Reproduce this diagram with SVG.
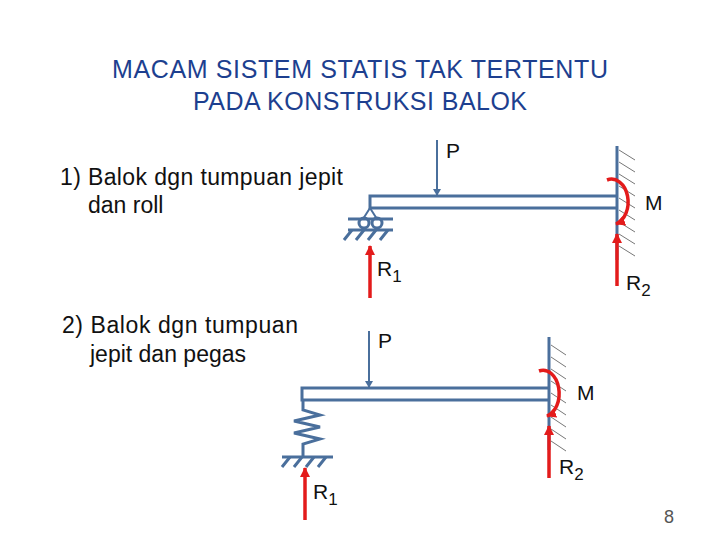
<svg xmlns="http://www.w3.org/2000/svg" width="720" height="540" viewBox="0 0 720 540">
<defs>
<marker id="ab" markerWidth="8" markerHeight="8" refX="6" refY="4" orient="auto" markerUnits="userSpaceOnUse"><path d="M0,0 L7,4 L0,8 Z" fill="#4a6f9c"/></marker>
<marker id="ar" markerWidth="12" markerHeight="10" refX="9" refY="5" orient="auto" markerUnits="userSpaceOnUse"><path d="M0,0 L10,5 L0,10 Z" fill="#e31b1b"/></marker>
</defs>
<style>
text{font-family:"Liberation Sans",Arial,sans-serif;fill:#111}
.t{font-size:25px;fill:#1d3f8f}
.l{font-size:23px}
.s{font-size:21px}
.b{fill:none;stroke:#4a6f9c;stroke-width:3}
.bt{fill:none;stroke:#4a6f9c;stroke-width:2}
.h{stroke:#777;stroke-width:1}
.r{fill:none;stroke:#e31b1b;stroke-width:3.5}
</style>
<rect width="720" height="540" fill="#fff"/>
<text class="t" x="360" y="78" text-anchor="middle" textLength="496">MACAM SISTEM STATIS TAK TERTENTU</text>
<text class="t" x="360" y="110" text-anchor="middle" textLength="334">PADA KONSTRUKSI BALOK</text>
<text class="l" x="60" y="185" textLength="283">1) Balok dgn tumpuan jepit</text>
<text class="l" x="88" y="213">dan roll</text>
<text class="l" x="62" y="333" textLength="236">2) Balok dgn tumpuan</text>
<text class="l" x="90" y="362">jepit dan pegas</text>
<g id="beam1">
<path class="b" d="M617,196 H370 V208 H617"/>
<path class="b" d="M617,146 V260"/>
<g class="h"><path d="M619,150 l16,10 M619,162 l16,10 M619,174 l16,10 M619,186 l16,10 M619,198 l16,10 M619,210 l16,10 M619,222 l16,10 M619,234 l16,10 M619,246 l16,10"/></g>
</g>
<g id="support1">
<path class="bt" d="M370,208 L363,219 H377 Z"/>
<circle class="b" cx="364" cy="223" r="5"/><circle class="b" cx="377" cy="223" r="5"/>
<path class="b" d="M348,219 H393 M348,230 H393"/>
<path class="b" d="M352,230 l-8,10 M364,230 l-8,10 M376,230 l-8,10 M388,230 l-8,10"/>
</g>
<g id="beam2">
<path class="b" d="M549,388 H302 V400 H549"/>
<path class="b" d="M549,337 V450"/>
<g class="h"><path d="M551,345 l15,10 M551,357 l15,10 M551,369 l15,10 M551,381 l15,10 M551,393 l15,10 M551,405 l15,10 M551,417 l15,10 M551,429 l15,10 M551,441 l15,10"/></g>
</g>
<g id="spring2">
<path class="b" d="M303,400 V410 L320,415 L294,421 L320,427 L294,433 L320,439 L303,444 V457"/>
<path class="b" d="M282,457 H333"/>
<path class="b" d="M290,457 l-8,10 M302,457 l-8,10 M314,457 l-8,10 M326,457 l-8,10"/>
</g>
<g id="connectors">
<path class="bt" d="M437,140 V195" marker-end="url(#ab)"/>
<path class="bt" d="M369,331 V387" marker-end="url(#ab)"/>
<path class="r" d="M370,298 V246" marker-end="url(#ar)"/>
<path class="r" d="M617,286 V234" marker-end="url(#ar)"/>
<path class="r" d="M305,520 V468" marker-end="url(#ar)"/>
<path class="r" d="M549,478 V426" marker-end="url(#ar)"/>
<path class="r" d="M607,180 A16,22 0 0 1 616,224" marker-end="url(#ar)"/>
<path class="r" d="M539,371 A16,23 0 0 1 547,416" marker-end="url(#ar)"/>
</g>
<text class="s" x="446" y="158">P</text>
<text class="s" x="645" y="210">M</text>
<text class="s" x="377" y="276">R<tspan font-size="17" dy="6">1</tspan></text>
<text class="s" x="626" y="290">R<tspan font-size="17" dy="6">2</tspan></text>
<text class="s" x="378" y="348">P</text>
<text class="s" x="577" y="400">M</text>
<text class="s" x="559" y="474">R<tspan font-size="17" dy="6">2</tspan></text>
<text class="s" x="313" y="499">R<tspan font-size="17" dy="6">1</tspan></text>
<text x="664" y="523" style="font-size:18px;fill:#555">8</text>
</svg>
